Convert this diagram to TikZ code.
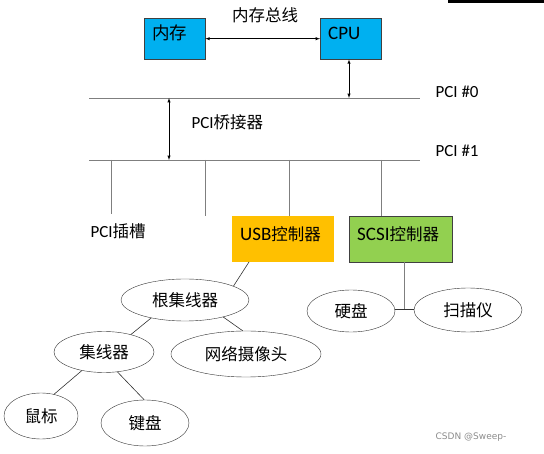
\documentclass[tikz,border=0pt]{standalone}
\usepackage{fontspec}
\setmainfont{Carlito}
\newfontfamily\cjk{Noto Sans CJK SC}
\newfontfamily\wmark{DejaVu Sans}
\usetikzlibrary{shapes.geometric}
\definecolor{memblue}{HTML}{00B0F0}
\definecolor{usbgold}{HTML}{FFC000}
\definecolor{scsigreen}{HTML}{92D050}
\definecolor{rule}{HTML}{7F7F7F}

\begin{document}
\begin{tikzpicture}[x=1pt, y=-1pt,
  box/.style={draw=black!75, anchor=north west, inner xsep=8pt, inner ysep=0pt, align=left,
    minimum height=#1, text height=12pt, text depth=10pt, font=\fontsize{19}{19}\selectfont},
  dev/.style={draw=black!80, ellipse, inner sep=0pt, font=\cjk\fontsize{16.5}{16.5}\selectfont},
  tag/.style={anchor=west, font=\fontsize{17}{17}\selectfont},
  bus/.style={draw=rule, line width=0.8pt},
  link/.style={draw=black!80, line width=0.6pt},
  both/.style={<->, >={latex}, line width=0.5pt}]
\useasboundingbox (0,0) rectangle (544,454);
\fill (448,0) rectangle (544,3);
% memory and CPU
\node (mem) at (144,18) [box=41pt, fill=memblue, text width=45pt] {\cjk\fontsize{17.5}{17.5}\selectfont 内存};
\node (cpu) at (320,18) [box=41pt, fill=memblue, text width=45pt] {CPU};
\draw [both] (mem.east) -- (cpu.west);
\node (membus) at (265,15) [font=\cjk\fontsize{16.5}{16.5}\selectfont] {内存总线};
% the two PCI buses
\coordinate (p0a) at (89,98);
\coordinate (p0b) at (420,98);
\coordinate (p1a) at (89,160);
\coordinate (p1b) at (420,160);
\draw [bus] (p0a) -- (p0b);
\draw [bus] (p1a) -- (p1b);
\node (pci0) at (432,92) [tag] {PCI \#0};
\node (pci1) at (432,151) [tag] {PCI \#1};
\draw [both] (cpu.south -| 349,0) -- (349,98);
\draw [both] (169,98) -- (169,160);
\node (bridge) at (188,122) [tag] {PCI{\cjk\fontsize{16.5}{16.5}\selectfont 桥接器}};
% slots and controllers
\node (usb) at (232,216) [box=46pt, fill=usbgold, draw=none, text width=86pt] {USB{\cjk\fontsize{16.5}{16.5}\selectfont 控制器}};
\node (scsi) at (349,216) [box=46pt, fill=scsigreen, text width=87pt] {SCSI{\cjk\fontsize{16.5}{16.5}\selectfont 控制器}};
\draw [bus] (111,160) -- (111,214);
\draw [bus] (205,160) -- (205,216);
\draw [bus] (289,160) -- (289,216);
\draw [bus] (381,160) -- (381,216);
\node (slot) at (87,231) [tag] {PCI{\cjk\fontsize{16.5}{16.5}\selectfont 插槽}};
% USB tree
\node (root) at (185,300) [dev, minimum width=128pt, minimum height=42pt] {根集线器};
\node (hub) at (104,352) [dev, minimum width=100pt, minimum height=41pt] {集线器};
\node (cam) at (246,354) [dev, minimum width=150pt, minimum height=46pt] {网络摄像头};
\node (mouse) at (41,416) [dev, minimum width=74pt, minimum height=46pt] {鼠标};
\node (kbd) at (145,423) [dev, minimum width=88pt, minimum height=46pt] {键盘};
\draw [link] (249,262) -- (root.16);
\draw [link] (root.208) -- (hub.33);
\draw [link] (root.336) -- (cam.98);
\draw [link] (hub.220) -- (mouse.59);
\draw [link] (hub.304) -- (kbd.92);
% SCSI devices
\node (disk) at (351,311) [dev, minimum width=88pt, minimum height=42pt] {硬盘};
\node (scan) at (468,310) [dev, minimum width=108pt, minimum height=44pt] {扫描仪};
\coordinate (tee) at (404,309);
\draw [bus] (scsi.south -| tee) -- (tee);
\draw [link] (disk.east |- tee) -- (scan.west |- tee);
\node (csdn) at (471,437) [text=black!45, font=\wmark\fontsize{9}{9}\selectfont] {CSDN @Sweep-};
\end{tikzpicture}
\end{document}
